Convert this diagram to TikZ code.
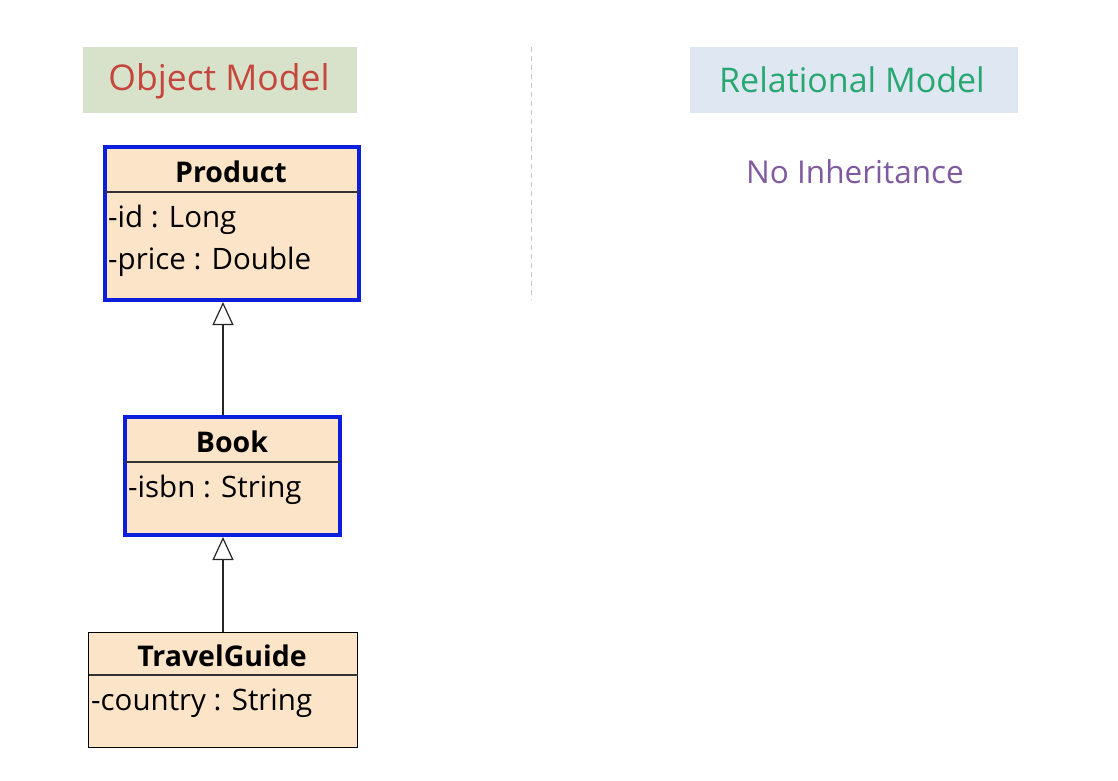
\documentclass[tikz,border=0pt]{standalone}
\usepackage{fontspec}
\setmainfont{Open Sans}
\usetikzlibrary{arrows.meta}
\definecolor{omfill}{RGB}{216,226,202}
\definecolor{omtext}{RGB}{196,70,60}
\definecolor{rmfill}{RGB}{222,231,242}
\definecolor{rmtext}{RGB}{40,168,112}
\definecolor{nitext}{RGB}{128,90,160}
\definecolor{clsfill}{RGB}{252,228,200}
\definecolor{clsblue}{RGB}{10,30,220}
\tikzset{
  hdr/.style={inner sep=0pt, font=\fontsize{34}{40}\selectfont},
  clsbox/.style={fill=clsfill, draw=clsblue, line width=4pt, inner sep=0pt},
  clsplain/.style={fill=clsfill, draw=black, line width=1.4pt, inner sep=0pt},
  ttl/.style={inner sep=0pt, font=\fontsize{28.5}{34}\selectfont\bfseries},
  attr/.style={inner sep=0pt, anchor=west, font=\fontsize{29.5}{35}\selectfont},
  divider/.style={draw=black!80, line width=1.2pt},
  gen/.style={draw=black!85, line width=1.2pt, -{Triangle[open, width=21pt, length=23pt, line width=1.2pt]}}
}
\begin{document}
\begin{tikzpicture}[x=1pt,y=-1pt]
\useasboundingbox (0,0) rectangle (1118,780);
\fill[white] (0,0) rectangle (1118,780);
% headers
\node[fill=omfill, minimum width=274pt, minimum height=66pt, inner sep=0pt] (om) at (220,80) {};
\node[hdr, text=omtext, font=\fontsize{35.5}{42}\selectfont] (omt) at (219,81) {Object Model};
\node[fill=rmfill, minimum width=328pt, minimum height=66pt, inner sep=0pt] (rm) at (854,80) {};
\node[hdr, text=rmtext] (rmt) at (852,80) {Relational Model};
\node[hdr, text=nitext, font=\fontsize{31.5}{37}\selectfont] (ni) at (855,172) {No Inheritance};
% dashed separator
\coordinate (sepa) at (531,47);
\coordinate (sepb) at (531,300);
\draw[draw=black!22, line width=1pt, dash pattern=on 5pt off 4pt] (sepa) -- (sepb);
% Product
\node[clsbox, minimum width=254pt, minimum height=153pt] (product) at (232,223.5) {};
\draw[divider] (105,192) -- (359,192);
\node[ttl] (productt) at (231,172) {Product};
\node[attr] (pid) at (108,220) {-id : Long};
\node[attr] (pprice) at (108,262) {-price : Double};
% Book
\node[clsbox, minimum width=215pt, minimum height=118pt] (book) at (232.5,476) {};
\draw[divider] (125,462) -- (340,462);
\node[ttl] (bookt) at (232,442) {Book};
\node[attr] (bisbn) at (128,490) {-isbn : String};
% TravelGuide
\node[clsplain, minimum width=269pt, minimum height=115pt] (travel) at (223,690) {};
\draw[divider] (88.5,675) -- (357.5,675);
\node[ttl] (travelt) at (222,656) {TravelGuide};
\node[attr] (tcountry) at (91,703) {-country : String};
% generalisations
\draw[gen] (travel.north) -- (travel.north |- book.south);
\draw[gen] (book.north -| travel.north) -- (travel.north |- product.south);
\end{tikzpicture}
\end{document}
